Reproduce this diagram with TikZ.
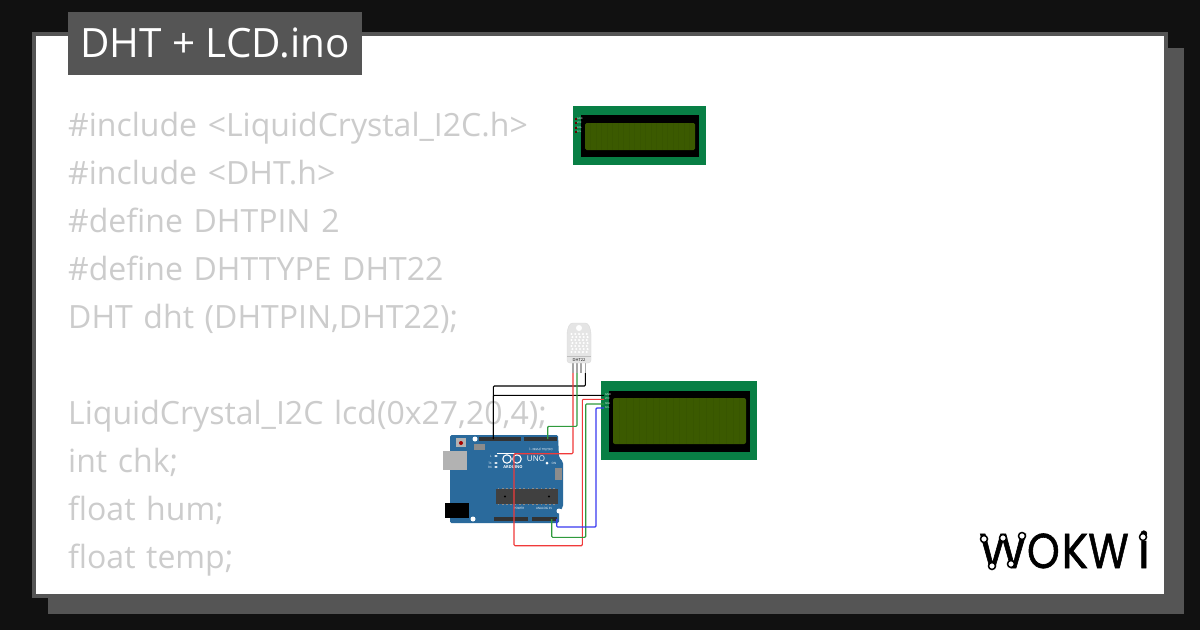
\documentclass[tikz,border=0pt]{standalone}
\usepackage{fontspec}
\usepackage{graphicx}
\setmainfont{Open Sans}
\newfontfamily\logofont[FakeBold=1.2]{Poppins}
\usetikzlibrary{positioning}
\definecolor{pagedark}{HTML}{111111}
\definecolor{framegray}{HTML}{555555}
\definecolor{codegray}{HTML}{CCCCCC}
\definecolor{lcdgreen}{HTML}{087F45}
\definecolor{lcdscreen}{HTML}{3B5A00}
\definecolor{lcdcolumn}{HTML}{385600}
\definecolor{unoblue}{HTML}{2A6A9C}
\definecolor{wirered}{HTML}{F03A3A}
\definecolor{wiregreen}{HTML}{2F9A3C}
\definecolor{wireblue}{HTML}{3A3AF0}
\tikzstyle{codeline} = [text=codegray, font=\fontsize{32}{36}\selectfont, text width=500pt, align=left, inner sep=0pt, text height=26pt, text depth=8pt, node distance=48pt]
\tikzstyle{wire} = [draw, line width=1.1pt, rounded corners=1pt]
\tikzstyle{header} = [fill=black!80, draw=none]
\tikzstyle{tiny} = [text=white, inner sep=0pt, font=\fontsize{3}{3}\selectfont]
\tikzstyle{ring} = [circle, draw=black, fill=white, line width=1.5pt, inner sep=0pt, minimum size=7pt]
\tikzstyle{hole} = [circle, fill=white, inner sep=0pt, minimum size=5pt]
\begin{document}
\begin{tikzpicture}[x=1pt,y=-1pt]
    \useasboundingbox (0,0) rectangle (1200,630);

    % Page and frame
    \fill [pagedark] (0,0) rectangle (1200,630);
    \fill [framegray] (48,48) rectangle (1184,614);
    \fill [framegray] (32,32) rectangle (1168,598);
    \fill [white] (36,36) rectangle (1164,594);
    \fill [framegray] (68,12) rectangle (362,75);
    \node [text=white, anchor=base west, inner sep=0pt, font=\fontsize{40.4}{44}\selectfont] (title) at (80,57.5) {DHT + LCD.ino};

    % Place code lines
    \node [codeline, anchor=west] (include-lcd) at (68,127) {\#include <LiquidCrystal\_I2C.h>};
    \node [codeline, below of=include-lcd] (include-dht) {\#include <DHT.h>};
    \node [codeline, below of=include-dht] (define-pin) {\#define DHTPIN 2};
    \node [codeline, below of=define-pin] (define-type) {\#define DHTTYPE DHT22};
    \node [codeline, below of=define-type] (dht-object) {DHT dht (DHTPIN,DHT22);};
    \node [codeline, below of=dht-object, node distance=96pt] (lcd-object) {LiquidCrystal\_I2C lcd(0x27,20,4);};
    \node [codeline, below of=lcd-object] (int-chk) {int chk;};
    \node [codeline, below of=int-chk] (float-hum) {float hum;};
    \node [codeline, below of=float-hum] (float-temp) {float temp;};

    % Small display
    \fill [lcdgreen] (573,106) rectangle (706,165);
    \fill [black] (581,115) rectangle (699,157);
    \fill [lcdscreen, rounded corners=1.5pt] (585,123) rectangle (695,150);
    \foreach \col in {1,...,19}
        \draw [lcdcolumn, line width=0.4pt] (585+5.5*\col,123) -- (585+5.5*\col,150);
    \foreach \pin/\name in {119/GND,123/VCC,128/SDA,132/SCL} {
        \fill [black!60!red] (574.5,\pin-1) rectangle (576.5,\pin+1);
        \node [tiny, anchor=west, font=\fontsize{2.4}{3}\selectfont] at (577,\pin) {\name};
    }

    % Big display
    \fill [lcdgreen] (601,381) rectangle (757,460);
    \fill [black] (609,391) rectangle (750,452);
    \fill [lcdscreen, rounded corners=2pt] (613,398) rectangle (746,444);
    \foreach \col in {1,...,19}
        \draw [lcdcolumn, line width=0.4pt] (613+6.65*\col,398) -- (613+6.65*\col,444);
    \foreach \pin/\name in {395/GND,399/VCC,404/SDA,408/SCL}
        \node [tiny, anchor=west, font=\fontsize{2.6}{3}\selectfont] at (605,\pin) {\name};

    % Sensor
    \fill [black!35] (572.3,363) rectangle (573.7,373);
    \fill [black!35] (576.3,363) rectangle (577.7,373);
    \fill [black!35] (580.3,363) rectangle (581.7,373);
    \fill [black!35] (584.6,363) rectangle (586,373);
    \draw [black!15, fill=black!10, rounded corners=3pt] (567,363) -- (567,331) -- (570,323) -- (588,323) -- (591,331) -- (591,363) -- cycle;
    \fill [white] (579,328) circle (3);
    \foreach \row in {0,...,6}
        \foreach \col in {0,...,4}
            \fill [white] ({571.5+3.8*\col+0.9*mod(\row,2)},{334+3*\row}) circle (1.15);
    \draw [black!25, line width=0.4pt] (567,356.5) -- (591,356.5);
    \node [inner sep=0pt, font=\fontsize{4}{4}\selectfont] (dht-label) at (579,359.7) {DHT22};

    % Board
    \fill [unoblue, rounded corners=1.5pt] (450,435) -- (558,435) -- (559,457) -- (563,462) -- (563,507) -- (559,512) -- (559,523) -- (450,523) -- cycle;
    \fill [black!30] (443,451) rectangle (467,470);
    \fill [black] (445,503) rectangle (469,518);
    \fill [black!30] (456,438) rectangle (466,447);
    \fill [red!65!black] (461,443) circle (2);
    \node [hole] at (475,439) {};
    \node [hole] at (473,519) {};
    \node [hole] at (559,511) {};
    \node [hole, minimum size=3pt] at (547,463) {};
    \fill [header] (479,437) rectangle (521,441);
    \fill [header] (524,437) rectangle (557,441);
    \fill [header] (494,517) rectangle (528,521);
    \fill [header] (532,517) rectangle (557,521);
    \fill [black!75] (496,489) rectangle (558,504);
    \foreach \col in {0,...,13} {
        \fill [black!45] (497.5+4.3*\col,487.8) rectangle (499.2+4.3*\col,489);
        \fill [black!45] (497.5+4.3*\col,504) rectangle (499.2+4.3*\col,505.2);
    }
    \fill [black] (505,496.5) circle (1.2);
    \fill [black] (549,496.5) circle (1.2);
    \fill [black!45] (473.5,444) rectangle (484.5,450);
    \fill [black!45] (555,468) rectangle (562,480);
    \draw [white, line width=0.6pt] (497,453) -- (559,453);
    \draw [white, line width=1.1pt] (507,459) circle (4.2);
    \draw [white, line width=1.1pt] (517,459) circle (4.2);
    \node [text=white, inner sep=0pt, font=\fontsize{8}{8}\selectfont] (uno-label) at (536,459) {UNO};
    \node [tiny, font=\fontsize{4}{4}\selectfont\bfseries] (arduino-label) at (513,467) {ARDUINO};
    \node [tiny, rotate=180] (digital-label) at (541,449) {DIGITAL (PWM \textasciitilde)};
    \node [tiny] (power-label) at (519,508.5) {POWER};
    \node [tiny] (analog-label) at (544,508.5) {ANALOG IN};
    \node [tiny] (l-label) at (491,456) {L};
    \node [tiny] (tx-label) at (490,463) {TX};
    \node [tiny] (rx-label) at (490,467) {RX};
    \node [tiny] (on-label) at (554,463) {ON};
    \foreach \led in {456,463,467}
        \fill [white] (496,\led) ellipse (1.8 and 1);

    % Pins and bends
    \coordinate (dht-vcc) at (573,373);
    \coordinate (dht-sda) at (577,373);
    \coordinate (dht-gnd) at (585.3,373);
    \coordinate (lcd-gnd) at (604,395.3);
    \coordinate (lcd-vcc) at (604,399.3);
    \coordinate (lcd-sda) at (604,404);
    \coordinate (lcd-scl) at (604,408);
    \coordinate (uno-gnd) at (493.3,439);
    \coordinate (uno-d2) at (547.7,439);
    \coordinate (uno-5v) at (514,519);
    \coordinate (uno-a4) at (551.7,519);
    \coordinate (uno-a5) at (556.7,519);
    \coordinate (black-top) at (493.3,386);
    \coordinate (green-top) at (547.7,426.3);
    \coordinate (red-top) at (514,453.7);
    \coordinate (red-low) at (582.3,545.7);
    \coordinate (green-low) at (585.7,537.3);
    \coordinate (blue-low) at (596,527);

    % Draw wires
    \path [wire, draw=black] (dht-gnd) |- (black-top) -- (uno-gnd);
    \path [wire, draw=black] (lcd-gnd) -| (uno-gnd);
    \path [wire, draw=wirered] (dht-vcc) |- (red-top) -- (uno-5v);
    \path [wire, draw=wirered] (lcd-vcc) -| (red-low) -| (uno-5v);
    \path [wire, draw=wiregreen] (dht-sda) |- (green-top) -- (uno-d2);
    \path [wire, draw=wiregreen] (lcd-sda) -| (green-low) -| (uno-a4);
    \path [wire, draw=wireblue] (lcd-scl) -| (blue-low) -| (uno-a5);

    % Logo
    \node [anchor=base west, inner sep=0pt, font=\logofont\fontsize{49}{49}\selectfont] (logo) at (979,568) {\scalebox{1}[1]{W}\scalebox{.85}[1]{O}\kern2pt\scalebox{.9}[1]{K}\kern0pt\scalebox{.85}[1]{W}\kern9pt i};
    \node [ring] (tip-a) at (984,539) {};
    \node [ring] (tip-b) at (1003,538) {};
    \node [ring] (tip-c) at (1022,536) {};
    \node [ring] (tip-d) at (992,566) {};
    \node [ring] (tip-e) at (1011,564) {};
    \node [ring] (tip-f) at (1143,537) {};
\end{tikzpicture}
\end{document}
